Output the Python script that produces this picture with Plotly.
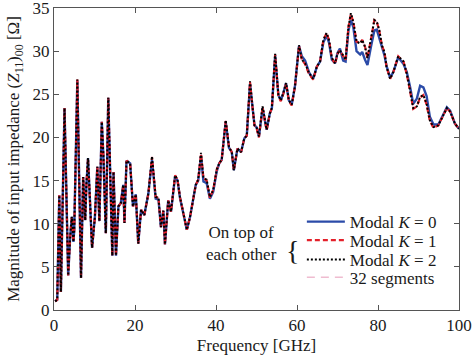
import plotly.graph_objects as go

freq = [0.3, 0.8, 1.3, 1.7, 2.6, 3.5, 4.0, 4.4, 4.8, 5.0, 5.76, 6.67, 7.2, 7.7, 8.0, 8.4, 8.8, 9.4,
        10.1, 10.7, 11.2, 11.8, 12.2, 12.8, 13.4, 13.8, 14.4, 14.7, 15.3, 15.9, 16.5, 17.1, 17.4, 17.9,
        18.8, 19.5, 20.2, 20.8, 21.5, 22.3, 23.3, 24.2, 25.1, 25.8, 26.4, 27.0, 27.4, 28.2, 28.9, 29.9,
        30.5, 31.1, 31.9, 32.8, 33.6, 34.4, 35.0, 35.6, 36.3, 36.9, 37.7, 38.5, 39.3, 40.2, 40.8, 41.4,
        42.4, 43.2, 43.9, 44.4, 45.3, 46.2, 47.0, 47.6, 48.4, 49.0, 49.5, 50.0, 50.6, 51.5, 52.1, 52.5,
        53.3, 53.8, 54.6, 55.4, 56.0, 56.6, 57.3, 58.0, 58.7, 59.5, 60.5, 61.2, 62.0, 63.0, 64.0, 64.9,
        65.7, 66.5, 67.3, 67.9, 68.6, 69.4, 70.0, 70.6, 71.4, 72.0, 72.7, 73.3, 73.9, 74.7, 75.6, 76.1,
        76.8, 77.4, 78.3, 79.1, 79.7, 80.3, 81.0, 81.6, 82.1, 83.0, 83.8, 85.0, 86.3, 87.1, 87.9, 88.7,
        89.6, 90.4, 91.2, 92.0, 92.8, 93.7, 94.9, 95.7, 97.0, 97.8, 99.0, 100.0]

z_k2 = [1.0, 1.2, 13.3, 2.1, 23.4, 4.0, 8.5, 10.8, 7.9, 9.3, 26.7, 3.7, 15.4, 10.4, 14.5, 17.6, 13.5, 7.2,
        10.8, 16.6, 10.3, 21.8, 17.8, 8.9, 24.6, 16.2, 6.3, 16.0, 6.3, 12.0, 12.4, 14.5, 10.1, 17.3,
        17.0, 12.0, 13.4, 7.7, 11.6, 11.0, 13.5, 17.8, 13.1, 13.0, 9.6, 11.5, 7.6, 12.7, 11.4, 15.6,
        15.1, 13.1, 11.2, 9.3, 10.8, 12.7, 14.5, 15.1, 18.2, 15.3, 15.1, 13.1, 13.9, 16.3, 17.0, 17.4,
        22.0, 18.9, 18.3, 16.2, 18.7, 18.3, 19.9, 20.2, 26.5, 23.6, 21.4, 21.2, 20.1, 23.6, 22.0, 20.9,
        22.8, 23.4, 29.7, 24.9, 24.3, 25.1, 26.3, 24.3, 23.8, 25.9, 30.7, 29.0, 28.6, 27.4, 26.8, 28.2,
        28.8, 31.3, 32.1, 31.3, 29.2, 28.6, 29.7, 30.1, 29.5, 29.0, 32.8, 34.4, 33.4, 31.1, 30.9, 31.3,
        30.5, 29.2, 31.5, 33.6, 33.4, 32.5, 30.6, 29.9, 28.2, 26.8, 27.6, 29.4, 28.8, 27.4, 25.5, 23.4,
        23.6, 24.7, 24.9, 23.9, 22.0, 21.2, 21.4, 22.2, 23.4, 23.0, 21.6, 21.0]

z_k1 = [1.0, 1.2, 13.3, 2.1, 23.4, 4.0, 8.5, 10.8, 7.9, 9.3, 26.7, 3.7, 15.4, 10.4, 14.5, 17.6, 13.5, 7.2,
        10.8, 16.6, 10.3, 21.8, 17.8, 8.9, 24.6, 16.2, 6.3, 16.0, 6.3, 12.0, 12.4, 14.5, 10.1, 17.3,
        17.0, 12.0, 13.4, 7.7, 11.6, 11.0, 13.5, 17.7, 13.1, 13.0, 9.6, 11.5, 7.6, 12.7, 11.4, 15.6,
        15.1, 13.1, 11.2, 9.3, 10.8, 12.7, 14.5, 15.1, 18.1, 15.3, 15.0, 13.0, 13.9, 16.3, 17.0, 17.4,
        21.9, 18.9, 18.3, 16.2, 18.7, 18.3, 19.9, 20.2, 26.4, 23.6, 21.4, 21.1, 20.0, 23.5, 22.0, 20.8,
        22.8, 23.4, 29.6, 24.8, 24.2, 25.0, 26.2, 24.2, 23.7, 25.9, 30.6, 29.0, 28.5, 27.3, 26.7, 28.2,
        28.8, 31.3, 32.1, 31.3, 29.2, 28.5, 29.7, 30.1, 29.4, 29.0, 32.8, 34.3, 33.4, 31.1, 30.9, 31.3,
        30.5, 29.2, 31.5, 33.6, 33.4, 32.4, 30.6, 29.9, 28.2, 26.8, 27.6, 29.4, 28.8, 27.3, 25.4, 23.3,
        23.6, 24.6, 24.9, 23.8, 21.9, 21.1, 21.4, 22.2, 23.4, 23.0, 21.6, 21.0]

z_k0 = [1.0, 1.2, 13.3, 2.1, 23.4, 4.0, 8.5, 10.8, 7.9, 9.3, 26.6, 3.7, 15.4, 10.4, 14.5, 17.6, 13.5, 7.2,
        10.8, 16.6, 10.3, 21.8, 17.8, 8.9, 24.6, 16.2, 6.3, 16.0, 6.3, 12.0, 12.4, 14.5, 10.1, 17.3,
        17.0, 12.0, 13.4, 7.7, 11.6, 11.0, 13.5, 17.4, 12.9, 12.8, 9.6, 11.5, 7.6, 12.7, 11.4, 15.5,
        15.0, 13.0, 11.2, 9.3, 10.8, 12.7, 14.5, 15.0, 17.8, 14.9, 14.7, 12.9, 13.7, 16.1, 17.0, 17.4,
        21.8, 18.8, 18.3, 16.2, 18.7, 18.3, 19.9, 20.2, 26.2, 23.6, 21.4, 21.2, 20.1, 23.4, 22.0, 20.9,
        22.8, 23.4, 29.5, 24.9, 24.3, 25.1, 26.3, 24.3, 23.8, 26.0, 30.6, 29.4, 28.9, 27.5, 26.8, 28.2,
        28.8, 31.0, 31.8, 31.0, 29.0, 28.6, 29.8, 30.3, 28.9, 28.8, 32.4, 33.6, 32.8, 30.0, 29.6, 29.9,
        29.0, 28.4, 30.6, 32.4, 32.5, 31.6, 30.3, 29.5, 28.3, 26.9, 27.6, 29.3, 28.5, 27.6, 25.9, 23.9,
        24.5, 26.0, 25.8, 24.8, 22.4, 21.5, 21.5, 22.2, 23.5, 23.1, 21.6, 21.0]

z_seg = [1.0, 1.2, 13.3, 2.1, 23.4, 4.0, 8.5, 10.8, 7.9, 9.3, 26.7, 3.7, 15.4, 10.4, 14.5, 17.6, 13.5, 7.2,
         10.8, 16.6, 10.3, 21.8, 17.8, 8.9, 24.6, 16.2, 6.3, 16.0, 6.3, 12.0, 12.4, 14.5, 10.1, 17.3,
         17.0, 12.0, 13.4, 7.7, 11.6, 11.0, 13.5, 17.8, 13.1, 13.0, 9.6, 11.5, 7.6, 12.7, 11.4, 15.6,
         15.1, 13.1, 11.2, 9.3, 10.8, 12.7, 14.5, 15.1, 18.2, 15.3, 15.1, 13.1, 13.9, 16.3, 17.0, 17.4,
         22.0, 18.9, 18.3, 16.2, 18.7, 18.3, 19.9, 20.2, 26.5, 23.6, 21.4, 21.2, 20.1, 23.6, 22.0, 20.9,
         22.8, 23.4, 29.7, 24.9, 24.3, 25.1, 26.3, 24.3, 23.8, 25.9, 30.7, 29.0, 28.6, 27.4, 26.8, 28.2,
         28.8, 31.3, 32.1, 31.3, 29.2, 28.6, 29.7, 30.1, 29.5, 29.0, 32.8, 34.4, 33.4, 31.1, 30.9, 31.3,
         30.5, 29.2, 31.5, 33.6, 33.4, 32.5, 30.6, 29.9, 28.2, 26.8, 27.6, 29.4, 28.8, 27.4, 25.5, 23.4,
         23.6, 24.7, 24.9, 23.9, 22.0, 21.2, 21.4, 22.2, 23.4, 23.0, 21.6, 21.0]

names = ["Modal <i>K</i> = 0", "Modal <i>K</i> = 1", "Modal <i>K</i> = 2", "32 segments"]
x_ticks = [0, 20, 40, 60, 80, 100]
y_ticks = [0, 5, 10, 15, 20, 25, 30, 35]

FONT = "Liberation Serif"
TXT = "#1a1a1a"

fig = go.Figure()
fig.add_trace(go.Scatter(x=freq, y=z_seg, mode="lines", name=names[3], legend="legend4",
                         line=dict(color="#efbcd0", width=1.5, dash="8px,6px")))
fig.add_trace(go.Scatter(x=freq, y=z_k0, mode="lines", name=names[0], legend="legend",
                         line=dict(color="#2b4ba8", width=2.4)))
fig.add_trace(go.Scatter(x=freq, y=z_k1, mode="lines", name=names[1], legend="legend2",
                         line=dict(color="#e4202a", width=2.2, dash="5px,3px")))
fig.add_trace(go.Scatter(x=freq, y=z_k2, mode="lines", name=names[2], legend="legend3",
                         line=dict(color="#000000", width=2, dash="2px,2px")))

def leg(y):
    return dict(x=0.612, y=y, xanchor="left", yanchor="middle", bgcolor="rgba(0,0,0,0)",
                borderwidth=0, font=dict(family=FONT, size=17, color=TXT), itemwidth=38)

axis_common = dict(showgrid=False, zeroline=False, showline=True, linecolor="#555", linewidth=1,
                   mirror="ticks", ticks="inside", ticklen=5, tickcolor="#555",
                   ticklabeloverflow="allow",
                   tickfont=dict(family=FONT, size=17, color=TXT))

fig.update_layout(
    width=474, height=358,
    margin=dict(l=54, r=15, t=8, b=48),
    paper_bgcolor="white", plot_bgcolor="white",
    showlegend=True,
    legend=leg(0.291), legend2=leg(0.230), legend3=leg(0.166), legend4=leg(0.107),
    xaxis=dict(range=[0, 100], tickvals=x_ticks, ticktext=[str(v) for v in x_ticks],
               title=dict(text="Frequency [GHz]", font=dict(family=FONT, size=17, color=TXT), standoff=4),
               automargin=False, **axis_common),
    yaxis=dict(range=[0, 35], tickvals=y_ticks, ticktext=[str(v) for v in y_ticks],
               title=dict(text="Magnitude of input impedance (<i>Z</i><sub>11</sub>)<sub>00</sub> [Ω]",
                          font=dict(family=FONT, size=17, color=TXT), standoff=8),
               automargin=False, **axis_common),
    annotations=[
        dict(x=0.464, y=0.146, xref="paper", yref="paper", text="On top of<br>each other",
             showarrow=False, font=dict(family=FONT, size=17, color=TXT), align="center"),
        dict(x=0.59, y=0.139, xref="paper", yref="paper", text="{",
             showarrow=False, font=dict(family=FONT, size=28, color=TXT)),
    ],
)

fig.write_html("out.html", config={"displayModeBar": False},
               post_script="document.body.style.margin='0';document.body.style.overflow='hidden';")
